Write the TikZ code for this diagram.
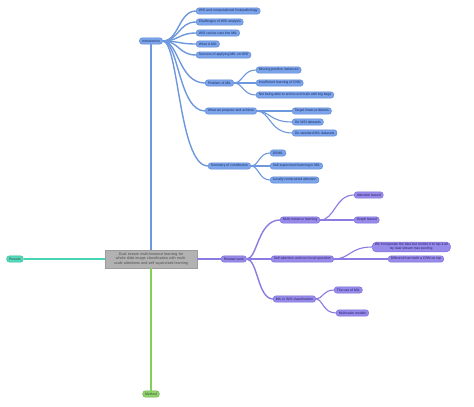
\documentclass[tikz,border=0pt]{standalone}
\usepackage{fontspec}
\setmainfont{Liberation Sans}
\definecolor{bline}{RGB}{110,152,222}
\definecolor{bfill}{RGB}{124,164,234}
\definecolor{bdraw}{RGB}{96,138,214}
\definecolor{btext}{RGB}{28,44,96}
\definecolor{pline}{RGB}{138,124,226}
\definecolor{pfill}{RGB}{150,138,234}
\definecolor{pdraw}{RGB}{124,110,216}
\definecolor{ptext}{RGB}{40,30,100}
\definecolor{tline}{RGB}{70,214,182}
\definecolor{tfill}{RGB}{82,220,188}
\definecolor{gline}{RGB}{132,206,92}
\definecolor{gfill}{RGB}{142,212,104}
\definecolor{cfill}{RGB}{178,178,178}
\definecolor{cdraw}{RGB}{156,156,156}
\tikzset{
  pill/.style={rounded corners=2.8pt, inner xsep=2.5pt, inner ysep=1.2pt, minimum height=6.4pt,
    font=\fontsize{3.45}{4}\selectfont, line width=0.5pt},
  bpill/.style={pill, fill=bfill, draw=bdraw, text=btext},
  ppill/.style={pill, fill=pfill, draw=pdraw, text=ptext},
  tpill/.style={pill, fill=tfill, draw=tline!85!black, text=black!75},
  gpill/.style={pill, fill=gfill, draw=gline!85!black, text=black!75},
  ctr/.style={fill=cfill, draw=cdraw, line width=0.4pt, text=black!70, align=center,
    text width=88pt, inner xsep=2pt, inner ysep=1.5pt, minimum height=18pt,
    font=\fontsize{3.7}{4.4}\selectfont},
  bl1/.style={draw=bline, line width=1.9pt},
  bl2/.style={draw=bline, line width=1.4pt},
  bl3/.style={draw=bline, line width=1.1pt},
  pl1/.style={draw=pline, line width=1.9pt},
  pl2/.style={draw=pline, line width=1.4pt},
  pl3/.style={draw=pline, line width=1.1pt},
  tl1/.style={draw=tline, line width=1.9pt},
  gl1/.style={draw=gline, line width=1.9pt},
}
\newcommand\brc[4]{\draw[#1] (#2.east) .. controls ([xshift=#4pt]#2.east) and ([xshift=#4pt]#2.east |- #3.west) .. (#3.west);}
\begin{document}
\begin{tikzpicture}[x=1pt,y=-1pt]
\useasboundingbox (0,0) rectangle (474,407);
\fill[white] (0,0) rectangle (474,407);
% central
\node[ctr] (c) at (151,259) {Dual stream multi-instance learning for whole slide image classification with multi-scale attentions and self supervised learning};
\node[tpill] (res) at (15,259) {Results};
\node[gpill] (met) at (151,394) {Method};
\node[bpill] (intro) at (151,41) {Introduction};
\node[ppill, anchor=west] (rw) at (221,259) {Related work};
% intro children
\node[bpill, anchor=west] (i1) at (196,11) {WSI and computational histopathology};
\node[bpill, anchor=west] (i2) at (196,22) {Challenges of WSI analysis};
\node[bpill, anchor=west] (i3) at (196,33) {WSI can be cast into MIL};
\node[bpill, anchor=west] (i4) at (196,44) {What is MIL};
\node[bpill, anchor=west] (i5) at (196,55) {Success of applying MIL on WSI};
\node[bpill, anchor=west] (i6) at (205,83) {Problem of MIL};
\node[bpill, anchor=west] (i7) at (205,111) {What we propose and achieve};
\node[bpill, anchor=west] (i8) at (208,166) {Summary of contribution};
\node[bpill, anchor=west] (i61) at (256,70) {Missing positive instances};
\node[bpill, anchor=west] (i62) at (256,83) {Insufficient learning of CNN};
\node[bpill, anchor=west] (i63) at (256,95) {Not being able to end-to-end train with big bags};
\node[bpill, anchor=west] (i71) at (292,111) {Target linear problems};
\node[bpill, anchor=west] (i72) at (292,122) {On WSI datasets};
\node[bpill, anchor=west] (i73) at (292,133) {On standard MIL datasets};
\node[bpill, anchor=west] (i81) at (270,153) {DSMIL};
\node[bpill, anchor=west] (i82) at (270,166) {Self-supervised learning in MIL};
\node[bpill, anchor=west] (i83) at (270,180) {Locally constrained attention};
% related work children
\node[ppill, anchor=west] (r1) at (280,220) {Multi-instance learning};
\node[ppill, anchor=west] (r2) at (271,259) {Self-attention and non-local operation};
\node[ppill, anchor=west] (r3) at (273,299) {MIL in WSI classification};
\node[ppill, anchor=west] (r11) at (354,195) {Attention based};
\node[ppill, anchor=west] (r12) at (354,220) {Graph based};
\node[ppill, anchor=west, align=center, rounded corners=4pt] (r21) at (372,247) {We incorporate the idea but restrict it to top-k all\\by dual stream max pooling};
\node[ppill, anchor=west] (r22) at (388,259) {Different from both a CNN on top};
\node[ppill, anchor=west] (r31) at (334,290) {The use of MIL};
\node[ppill, anchor=west] (r32) at (336,313) {Multiscale models};
% trunk connectors
\draw[bl1] (intro.south) -- (c.north);
\draw[tl1] (res.east) -- (c.west);
\draw[gl1] (c.south) -- (met.north);
\draw[pl1] (c.east) -- (rw.west);
% intro branches
\foreach \n in {i1,i2,i3,i4,i5,i6,i7,i8} {\brc{bl2}{intro}{\n}{16}}
\foreach \n in {i61,i62,i63} {\brc{bl3}{i6}{\n}{9}}
\foreach \n in {i71,i72,i73} {\brc{bl3}{i7}{\n}{13}}
\foreach \n in {i81,i82,i83} {\brc{bl3}{i8}{\n}{8}}
% related work branches
\foreach \n in {r1,r2,r3} {\brc{pl2}{rw}{\n}{11}}
\foreach \n in {r11,r12} {\brc{pl3}{r1}{\n}{15}}
\brc{pl3}{r2}{r21}{16}
\draw[pl3] (r2.east) -- (r22.west);
\foreach \n in {r31,r32} {\brc{pl3}{r3}{\n}{7}}
\end{tikzpicture}
\end{document}
